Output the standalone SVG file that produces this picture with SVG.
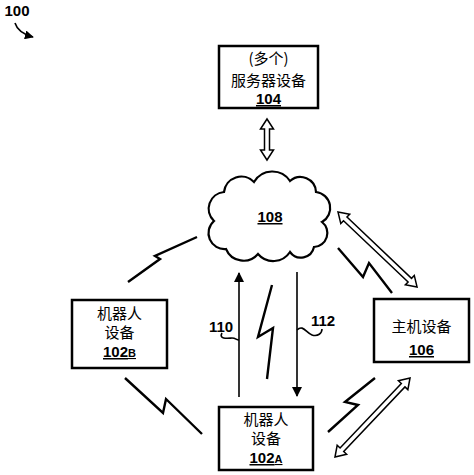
<svg xmlns="http://www.w3.org/2000/svg" width="474" height="475" viewBox="0 0 474 475">
<style>
.box{fill:#fff;stroke:#000;stroke-width:2.5}
.cjk{font-family:"Noto Sans CJK SC","Noto Sans CJK JP",sans-serif;font-size:15px;text-anchor:middle;fill:#000}
.num{font-family:"Liberation Sans",Arial,sans-serif;font-weight:bold;font-size:15px;text-anchor:middle;fill:#000}
.ul{text-decoration:underline}
.bolt{fill:none;stroke:#000;stroke-width:2.4;stroke-linejoin:miter}
.hollow{fill:#fff;stroke:#000;stroke-width:1.5;stroke-linejoin:miter}
.line{stroke:#000;stroke-width:1.6;fill:none}
</style>
<defs>
<marker id="ah" viewBox="0 0 10 10" refX="9" refY="5" markerWidth="9" markerHeight="9" markerUnits="userSpaceOnUse" orient="auto">
<path d="M0,0 L10,5 L0,10 Z" fill="#000"/>
</marker>
<marker id="ah2" viewBox="0 0 10 10" refX="9" refY="5" markerWidth="10" markerHeight="12" markerUnits="userSpaceOnUse" orient="auto">
<path d="M0,0 L10,5 L0,10 Z" fill="#000"/>
</marker>
</defs>

<g id="label100">
<text x="17" y="16" class="num">100</text>
<path d="M15,23 Q18,33 33,37" class="line" stroke-width="2" marker-end="url(#ah)"/>
</g>

<g id="connectors">
<path class="hollow" transform="translate(267,119) rotate(90)" d="M0,0 L10,-6.5 L10,-2.5 L31,-2.5 L31,-6.5 L41,0 L31,6.5 L31,2.5 L10,2.5 L10,6.5 Z"/>
<path class="hollow" transform="translate(338,212) rotate(43.5)" d="M0,0 L10,-6.5 L10,-2.5 L99,-2.5 L99,-6.5 L109,0 L99,6.5 L99,2.5 L10,2.5 L10,6.5 Z"/>
<path class="hollow" transform="translate(335,457) rotate(-46.5)" d="M0,0 L10,-6.5 L10,-2.5 L99,-2.5 L99,-6.5 L109,0 L99,6.5 L99,2.5 L10,2.5 L10,6.5 Z"/>
<polyline class="bolt" points="128,282 160,259 155,256 197,237"/>
<polyline class="bolt" points="338,248 363,277 369,263 392,293"/>
<polyline class="bolt" points="125,378 163,413 166,399 202,434"/>
<polyline class="bolt" points="328,432 358,405 345,402 375,378"/>
<polyline class="bolt" points="272,285 258,337 273,328 267,379" stroke-width="2"/>
<line x1="239" y1="397" x2="239" y2="273" class="line" marker-end="url(#ah2)"/>
<line x1="297" y1="272" x2="297" y2="396" class="line" marker-end="url(#ah2)"/>
<path d="M222,333 C218,340 230,338 232,338 C236,338 236,340 239,340" class="line" stroke-width="1.2"/>
<path d="M297,330 C303,324 306,333 312,335 C318,337 322,333 322,329" class="line" stroke-width="1.2"/>
<text x="221" y="332" class="num">110</text>
<text x="323" y="326" class="num">112</text>
</g>

<g id="node104">
<rect x="219" y="46" width="99" height="62" class="box"/>
<text x="268.5" y="64" class="cjk">(多个)</text>
<text x="268.5" y="86" class="cjk">服务器设备</text>
<text x="268.5" y="104" class="num ul">104</text>
</g>

<g id="node108">
<path d="M224,192 A17.5,17.5 0 0 1 254,182 A21.2,21.2 0 0 1 290,181 A15.6,15.6 0 0 1 316,192 A16.1,16.1 0 0 1 322,222 A14,14 0 0 1 314,247 A13.4,13.4 0 0 1 290,252 A20,20 0 0 1 258,254 A19,19 0 0 1 226,249 A16,16 0 0 1 214,221 A16.8,16.8 0 0 1 224,192 Z" fill="#fff" stroke="#000" stroke-width="2.2"/>
<text x="270" y="222" class="num ul">108</text>
</g>

<g id="node102B">
<rect x="72" y="300" width="95" height="68" class="box"/>
<text x="119.5" y="319" class="cjk">机器人</text>
<text x="119.5" y="338" class="cjk">设备</text>
<text x="119.5" y="357" class="num ul">102<tspan font-size="11">B</tspan></text>
</g>

<g id="node106">
<rect x="374" y="299" width="95" height="63" class="box"/>
<text x="421.5" y="332" class="cjk">主机设备</text>
<text x="421.5" y="355" class="num ul">106</text>
</g>

<g id="node102A">
<rect x="219" y="407" width="94" height="63" class="box"/>
<text x="266" y="425" class="cjk">机器人</text>
<text x="266" y="444" class="cjk">设备</text>
<text x="266" y="463" class="num ul">102<tspan font-size="11">A</tspan></text>
</g>
</svg>
